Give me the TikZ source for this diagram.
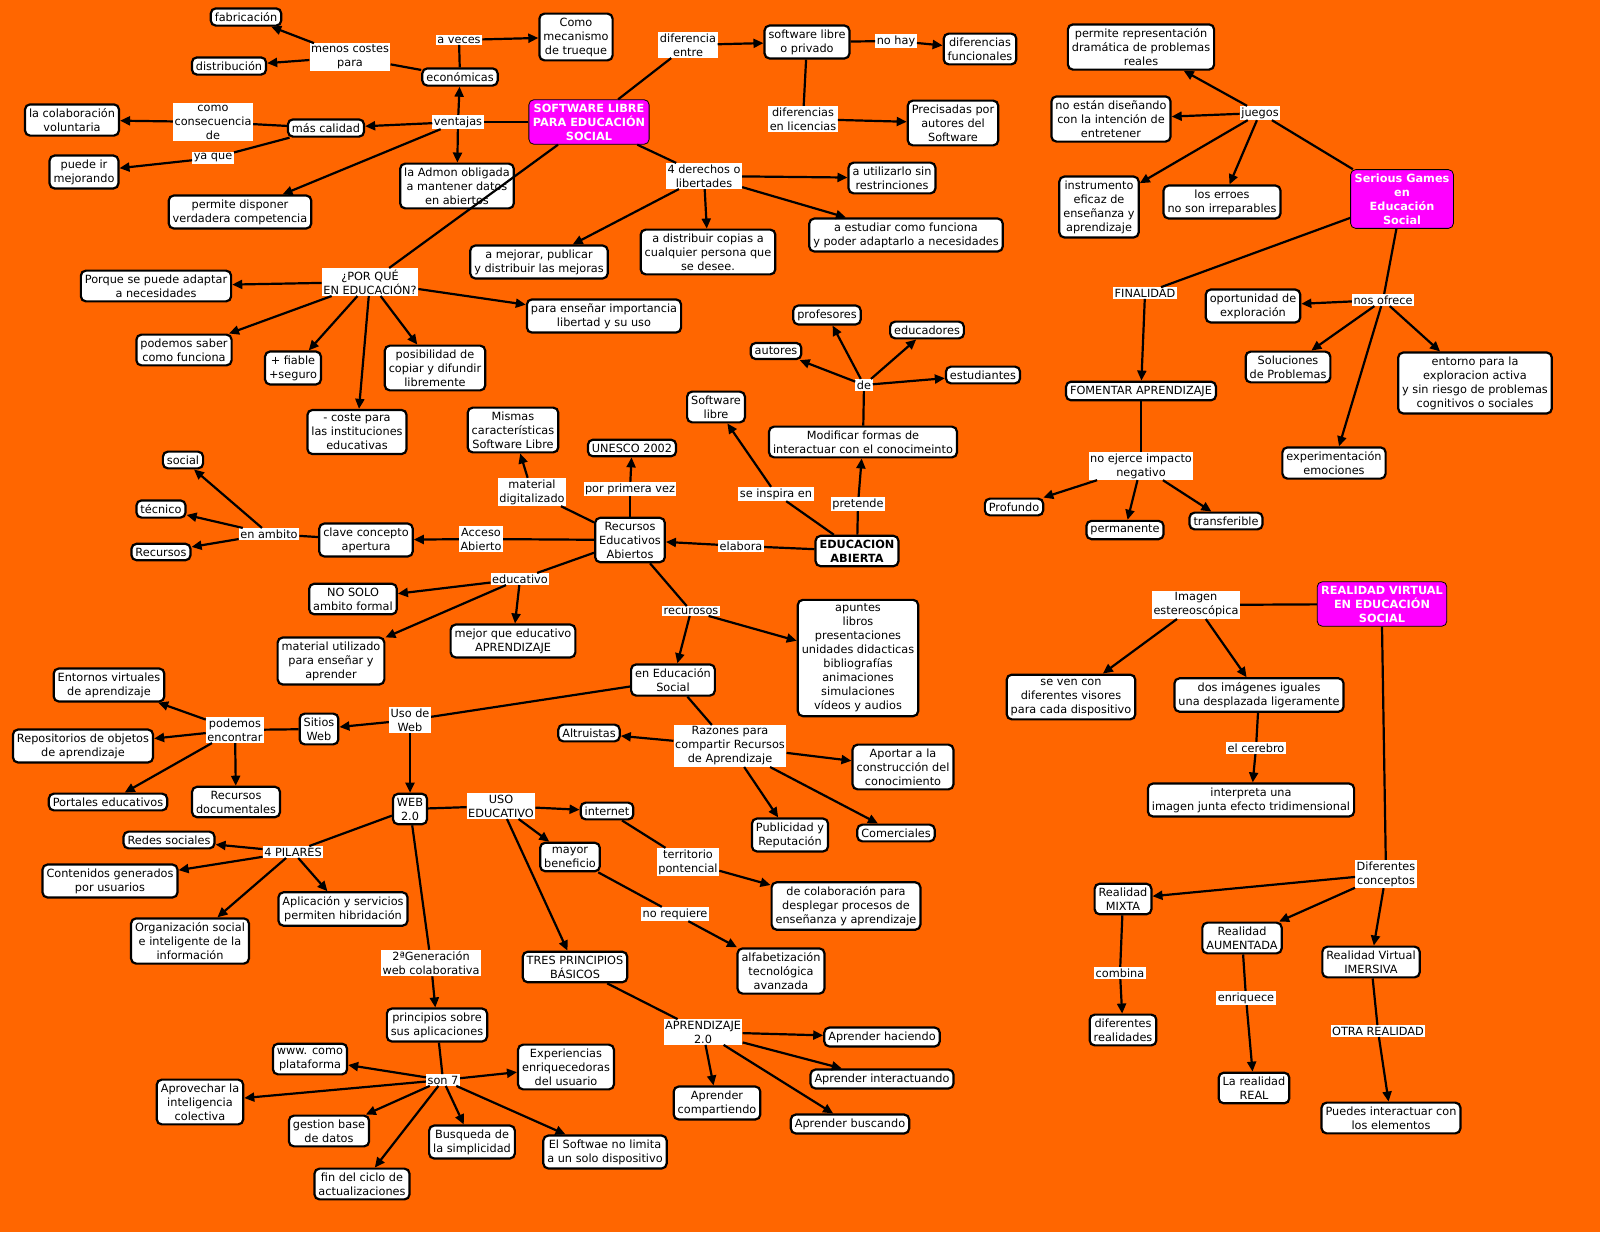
\documentclass[tikz,border=0pt]{standalone}
\usepackage{fontspec}
\setmainfont{DejaVu Sans}
\usetikzlibrary{arrows.meta}
\definecolor{bg}{HTML}{FF6600}
\definecolor{mag}{HTML}{FF00FF}
\begin{document}
\begin{tikzpicture}[x=1pt,y=-1pt,
 font=\fontsize{11.3}{14}\selectfont,
 bx/.style={draw,line width=2.2pt,rounded corners=5pt,fill=white,inner sep=4pt,align=center},
 mg/.style={draw,line width=0.8pt,rounded corners=5pt,fill=mag,text=white,font=\fontsize{11.3}{14}\selectfont\bfseries,inner sep=4pt,align=center},
 lb/.style={fill=white,inner sep=1.5pt,align=center},
 ln/.style={line width=2.2pt},
 ar/.style={line width=2.2pt,-{Triangle[length=10pt,width=9pt]}}]
\fill[bg] (0,0) rectangle (1600,1232);
% ---- top left
\node[bx] (fab) at (246,17) {fabricación};
\node[bx] (dis) at (229,66) {distribución};
\node[lb] (mcp) at (350,57) {menos costes\\para};
\node[lb] (ave) at (459,40) {a veces};
\node[bx] (eco) at (460,77) {económicas};
\node[bx] (tru) at (576,37) {Como\\mecanismo\\de trueque};
\node[lb] (ven) at (458,122) {ventajas};
\node[bx] (col) at (72,120) {la colaboración\\voluntaria};
\node[lb] (cco) at (213,122) {como\\consecuencia\\de};
\node[bx] (mca) at (326,128) {más calidad};
\node[lb] (yaq) at (213,158) {ya que};
\node[bx] (pim) at (84,172) {puede ir\\mejorando};
\node[bx] (pdc) at (240,212) {permite disponer\\verdadera competencia};
\node[bx] (adm) at (457,186) {la Admon obligada\\a mantener datos\\en abiertos};
\node[mg] (sl) at (589,122) {SOFTWARE LIBRE\\PARA EDUCACIÓN\\SOCIAL};
\node[lb] (dfe) at (688,45) {diferencia\\entre};
\node[bx] (slp) at (807,42) {software libre\\o privado};
\node[lb] (noh) at (896,41) {no hay};
\node[bx] (dfu) at (980,49) {diferencias\\funcionales};
\node[lb] (dli) at (803,119) {diferencias\\en licencias};
\node[bx] (pre) at (953,123) {Precisadas por\\autores del\\Software};
\node[lb] (der) at (704,176) {4 derechos o\\libertades};
\node[bx] (uti) at (892,178) {a utilizarlo sin\\restrinciones};
\node[bx] (est) at (906,235) {a estudiar como funciona\\y poder adaptarlo a necesidades};
\node[bx] (dcp) at (708,252) {a distribuir copias a\\cualquier persona que\\se desee.};
\node[bx] (mej) at (539,262) {a mejorar, publicar\\y distribuir las mejoras};
\node[lb] (pq) at (370,282) {¿POR QUÉ\\EN EDUCACIÓN?};
\node[bx] (ada) at (156,286) {Porque se puede adaptar\\a necesidades};
\node[bx] (ens) at (604,316) {para enseñar importancia\\libertad y su uso};
\node[bx] (psa) at (184,350) {podemos saber\\como funciona};
\node[bx] (fia) at (293,368) {+ fiable\\+seguro};
\node[bx] (pos) at (435,368) {posibilidad de\\copiar y difundir\\libremente};
\node[bx] (cos) at (357,432) {- coste para\\las instituciones\\educativas};
\node[bx] (mis) at (513,430) {Mismas\\características\\Software Libre};
\node[bx] (une) at (632,448) {UNESCO 2002};
\node[bx] (swl) at (716,407) {Software\\libre};
\node[bx] (prf) at (827,315) {profesores};
\node[bx] (edu) at (927,330) {educadores};
\node[bx] (aut) at (776,351) {autores};
\node[lb] (de) at (864,385) {de};
\node[bx] (estu) at (983,375) {estudiantes};
\node[bx] (mod) at (863,442) {Modificar formas de\\interactuar con el conocimeinto};
\node[lb] (mdi) at (532,492) {material\\digitalizado};
\node[lb] (ppv) at (630,489) {por primera vez};
\node[lb] (sei) at (776,494) {se inspira en};
\node[lb] (pte) at (858,504) {pretende};
\node[bx] (soc) at (183,460) {social};
\node[bx] (tec) at (161,509) {técnico};
\node[bx] (rec) at (161,552) {Recursos};
\node[lb] (ena) at (269,534) {en ambito};
\node[bx] (cla) at (366,540) {clave concepto\\apertura};
\node[lb] (aab) at (481,539) {Acceso\\Abierto};
\node[bx] (rea) at (630,540) {Recursos\\Educativos\\Abiertos};
\node[lb] (ela) at (741,546) {elabora};
\node[bx,font=\fontsize{11.3}{14}\selectfont\bfseries] (ea) at (857,551) {EDUCACION\\ABIERTA};
\node[lb] (edv) at (520,579) {educativo};
\node[bx] (nos) at (353,599) {NO SOLO\\ambito formal};
\node[bx] (mut) at (331,661) {material utilizado\\para enseñar y\\aprender};
\node[bx] (mqe) at (513,641) {mejor que educativo\\APRENDIZAJE};
\node[lb] (rcs) at (691,611) {recurosos};
\node[bx] (apu) at (858,658) {apuntes\\libros\\presentaciones\\unidades didacticas\\bibliografías\\animaciones\\simulaciones\\vídeos y audios};
\node[bx] (ees) at (673,680) {en Educación\\Social};
\node[bx] (evi) at (109,685) {Entornos virtuales\\de aprendizaje};
\node[lb] (pen) at (235,730) {podemos\\encontrar};
\node[bx] (siw) at (319,729) {Sitios\\Web};
\node[lb] (uwe) at (410,720) {Uso de\\Web};
\node[bx] (rep) at (83,746) {Repositorios de objetos\\de aprendizaje};
\node[bx] (por) at (108,802) {Portales educativos};
\node[bx] (rdo) at (236,802) {Recursos\\documentales};
\node[bx] (alt) at (589,733) {Altruistas};
\node[lb] (raz) at (730,746) {Razones para\\compartir Recursos\\de Aprendizaje};
\node[bx] (apo) at (903,767) {Aportar a la\\construcción del\\conocimiento};
\node[bx] (web) at (410,809) {WEB\\2.0};
\node[lb] (use) at (501,806) {USO\\EDUCATIVO};
\node[bx] (int) at (607,811) {internet};
\node[bx] (pub) at (790,835) {Publicidad y\\Reputación};
\node[bx] (com) at (896,833) {Comerciales};
\node[bx] (red) at (169,840) {Redes sociales};
\node[lb] (pil) at (293,852) {4 PILARES};
\node[bx] (cgu) at (110,881) {Contenidos generados\\por usuarios};
\node[bx] (may) at (570,857) {mayor\\beneficio};
\node[lb] (ter) at (688,862) {territorio\\pontencial};
\node[bx] (aps) at (343,909) {Aplicación y servicios\\permiten hibridación};
\node[bx] (dco) at (846,906) {de colaboración para\\desplegar procesos de\\enseñanza y aprendizaje};
\node[lb] (nrq) at (675,914) {no requiere};
\node[bx] (org) at (190,941) {Organización social\\e inteligente de la\\información};
\node[lb] (gen) at (431,963) {2ªGeneración\\web colaborativa};
\node[bx] (tres) at (575,967) {TRES PRINCIPIOS\\BÁSICOS};
\node[bx] (alf) at (781,971) {alfabetización\\tecnológica\\avanzada};
\node[bx] (pri) at (437,1025) {principios sobre\\sus aplicaciones};
\node[lb] (a20) at (703,1032) {APRENDIZAJE\\2.0};
\node[bx] (aha) at (882,1037) {Aprender haciendo};
\node[bx] (www) at (310,1059) {www. como\\plataforma};
\node[bx] (exp) at (566,1067) {Experiencias\\enriquecedoras\\del usuario};
\node[lb] (s7) at (443,1080) {son 7};
\node[bx] (ain) at (882,1079) {Aprender interactuando};
\node[bx] (apr) at (200,1102) {Aprovechar la\\inteligencia\\colectiva};
\node[bx] (aco) at (717,1103) {Aprender\\compartiendo};
\node[bx] (gbd) at (329,1131) {gestion base\\de datos};
\node[bx] (bus) at (472,1142) {Busqueda de\\la simplicidad};
\node[bx] (sof) at (605,1152) {El Softwae no limita\\a un solo dispositivo};
\node[bx] (abu) at (850,1124) {Aprender buscando};
\node[bx] (fin) at (362,1184) {fin del ciclo de\\actualizaciones};
% ---- right
\node[bx] (prd) at (1141,47) {permite representación\\dramática de problemas\\reales};
\node[lb] (jue) at (1260,113) {juegos};
\node[bx] (ned) at (1111,119) {no están diseñando\\con la intención de\\entretener};
\node[bx] (ins) at (1099,207) {instrumento\\eficaz de\\enseñanza y\\aprendizaje};
\node[bx] (err) at (1222,202) {los erroes\\no son irreparables};
\node[mg] (sg) at (1402,199) {Serious Games\\en\\Educación\\Social};
\node[lb] (fnl) at (1145,293) {FINALIDAD};
\node[bx] (opo) at (1253,306) {oportunidad de\\exploración};
\node[lb] (nof) at (1383,300) {nos ofrece};
\node[bx] (sol) at (1288,367) {Soluciones\\de Problemas};
\node[bx] (ent) at (1475,383) {entorno para la\\exploracion activa\\y sin riesgo de problemas\\cognitivos o sociales};
\node[bx] (fom) at (1141,391) {FOMENTAR APRENDIZAJE};
\node[bx] (exe) at (1334,463) {experimentación\\emociones};
\node[lb] (nei) at (1141,466) {no ejerce impacto\\negativo};
\node[bx] (pro) at (1014,507) {Profundo};
\node[bx] (tra) at (1226,521) {transferible};
\node[bx] (per) at (1125,530) {permanente};
\node[mg] (rv) at (1382,604) {REALIDAD VIRTUAL\\EN EDUCACIÓN\\SOCIAL};
\node[lb] (ies) at (1196,605) {Imagen\\estereoscópica};
\node[bx] (svv) at (1071,697) {se ven con\\diferentes visores\\para cada dispositivo};
\node[bx] (dim) at (1259,695) {dos imágenes iguales\\una desplazada ligeramente};
\node[lb] (cer) at (1256,748) {el cerebro};
\node[bx] (itp) at (1251,800) {interpreta una\\imagen junta efecto tridimensional};
\node[lb] (dic) at (1386,874) {Diferentes\\conceptos};
\node[bx] (rmi) at (1123,899) {Realidad\\MIXTA};
\node[bx] (rau) at (1242,938) {Realidad\\AUMENTADA};
\node[bx] (rim) at (1371,962) {Realidad Virtual\\IMERSIVA};
\node[lb] (cmb) at (1120,973) {combina};
\node[lb] (enr) at (1246,998) {enriquece};
\node[lb] (otr) at (1378,1031) {OTRA REALIDAD};
\node[bx] (dre) at (1123,1030) {diferentes\\realidades};
\node[bx] (rre) at (1254,1088) {La realidad\\REAL};
\node[bx] (pui) at (1391,1118) {Puedes interactuar con\\los elementos};
% ---- edges
\draw[ln] (eco)--(mcp); \draw[ar] (mcp)--(fab); \draw[ar] (mcp)--(dis);
\draw[ln] (eco)--(ave); \draw[ar] (ave)--(tru);
\draw[ar] (ven)--(eco); \draw[ln] (sl)--(ven); \draw[ar] (ven)--(mca); \draw[ar] (ven)--(adm); \draw[ar] (ven)--(pdc);
\draw[ln] (mca)--(cco); \draw[ar] (cco)--(col); \draw[ln] (mca)--(yaq); \draw[ar] (yaq)--(pim);
\draw[ln] (sl)--(dfe); \draw[ar] (dfe)--(slp);
\draw[ln] (slp)--(noh); \draw[ar] (noh)--(dfu);
\draw[ln] (slp)--(dli); \draw[ar] (dli)--(pre);
\draw[ln] (sl)--(der); \draw[ar] (der)--(uti); \draw[ar] (der)--(est); \draw[ar] (der)--(dcp); \draw[ar] (der)--(mej);
\draw[ln] (sl)--(pq); \draw[ar] (pq)--(ada); \draw[ar] (pq)--(ens); \draw[ar] (pq)--(psa); \draw[ar] (pq)--(fia); \draw[ar] (pq)--(pos); \draw[ar] (pq)--(cos);
\draw[ln] (ea)--(sei); \draw[ar] (sei)--(swl);
\draw[ln] (ea)--(pte); \draw[ar] (pte)--(mod);
\draw[ln] (mod)--(de); \draw[ar] (de)--(prf); \draw[ar] (de)--(edu); \draw[ar] (de)--(aut); \draw[ar] (de)--(estu);
\draw[ln] (ea)--(ela); \draw[ar] (ela)--(rea);
\draw[ln] (rea)--(ppv); \draw[ar] (ppv)--(une);
\draw[ln] (rea)--(mdi); \draw[ar] (mdi)--(mis);
\draw[ln] (rea)--(aab); \draw[ar] (aab)--(cla);
\draw[ln] (cla)--(ena); \draw[ar] (ena)--(soc); \draw[ar] (ena)--(tec); \draw[ar] (ena)--(rec);
\draw[ln] (rea)--(edv); \draw[ar] (edv)--(nos); \draw[ar] (edv)--(mut); \draw[ar] (edv)--(mqe);
\draw[ln] (rea)--(rcs); \draw[ar] (rcs)--(ees); \draw[ar] (rcs)--(apu);
\draw[ln] (ees)--(uwe); \draw[ar] (uwe)--(siw); \draw[ar] (uwe)--(web);
\draw[ln] (siw)--(pen); \draw[ar] (pen)--(evi); \draw[ar] (pen)--(rep); \draw[ar] (pen)--(por); \draw[ar] (pen)--(rdo);
\draw[ln] (ees)--(raz); \draw[ar] (raz)--(alt); \draw[ar] (raz)--(apo); \draw[ar] (raz)--(pub); \draw[ar] (raz)--(com);
\draw[ln] (web)--(use); \draw[ar] (use)--(int); \draw[ar] (use)--(may); \draw[ar] (use)--(tres);
\draw[ln] (web)--(pil); \draw[ar] (pil)--(red); \draw[ar] (pil)--(cgu); \draw[ar] (pil)--(aps); \draw[ar] (pil)--(org);
\draw[ln] (web)--(gen); \draw[ar] (gen)--(pri);
\draw[ln] (int)--(ter); \draw[ar] (ter)--(dco);
\draw[ln] (may)--(nrq); \draw[ar] (nrq)--(alf);
\draw[ln] (tres)--(a20); \draw[ar] (a20)--(aha); \draw[ar] (a20)--(ain); \draw[ar] (a20)--(aco); \draw[ar] (a20)--(abu);
\draw[ln] (pri)--(s7); \draw[ar] (s7)--(www); \draw[ar] (s7)--(exp); \draw[ar] (s7)--(apr); \draw[ar] (s7)--(gbd); \draw[ar] (s7)--(bus); \draw[ar] (s7)--(sof); \draw[ar] (s7)--(fin);
\draw[ln] (sg)--(jue); \draw[ar] (jue)--(prd); \draw[ar] (jue)--(ned); \draw[ar] (jue)--(ins); \draw[ar] (jue)--(err);
\draw[ln] (sg)--(fnl); \draw[ar] (fnl)--(fom);
\draw[ln] (sg)--(nof); \draw[ar] (nof)--(opo); \draw[ar] (nof)--(sol); \draw[ar] (nof)--(ent); \draw[ar] (nof)--(exe);
\draw[ln] (fom)--(nei); \draw[ar] (nei)--(pro); \draw[ar] (nei)--(per); \draw[ar] (nei)--(tra);
\draw[ln] (rv)--(ies); \draw[ar] (ies)--(svv); \draw[ar] (ies)--(dim);
\draw[ln] (dim)--(cer); \draw[ar] (cer)--(itp);
\draw[ln] (rv.south)--(dic); \draw[ar] (dic)--(rmi); \draw[ar] (dic)--(rau); \draw[ar] (dic)--(rim);
\draw[ln] (rmi)--(cmb); \draw[ar] (cmb)--(dre);
\draw[ln] (rau)--(enr); \draw[ar] (enr)--(rre);
\draw[ln] (rim)--(otr); \draw[ar] (otr)--(pui);
\pgfresetboundingbox
\useasboundingbox (0,0) rectangle (1600,1232);
\end{tikzpicture}
\end{document}
